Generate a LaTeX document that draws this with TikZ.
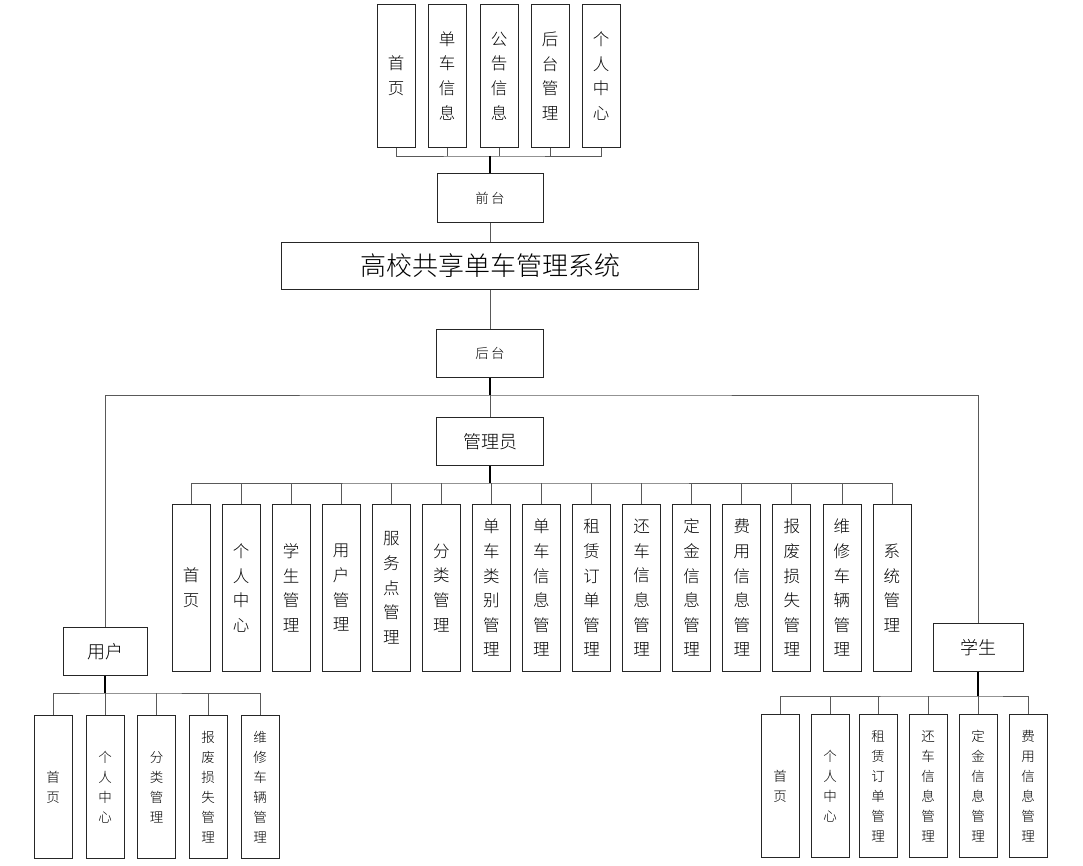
\documentclass[tikz,border=0pt]{standalone}
\usepackage{fontspec}
\setmainfont{Noto Sans CJK SC}[UprightFont=* Light]
\begin{document}
\begin{tikzpicture}[x=1pt,y=-1pt,
  box/.style={draw=black!85, line width=0.8pt, inner sep=0pt, align=center, fill=white},
  vbig/.style={box, anchor=north, minimum width=38pt, minimum height=143pt, font=\fontsize{16.5}{24.6}\selectfont},
  vsmall/.style={box, anchor=north, minimum width=38pt, minimum height=143pt, font=\fontsize{13.5}{20}\selectfont},
  hbox/.style={box, anchor=north, minimum height=48pt},
  link/.style={draw=black!65, line width=0.8pt},
  trunk/.style={draw=black, line width=1.2pt}
]
\useasboundingbox (0,0) rectangle (1083,866);

% ---------- front end ----------
\node[vbig] (t1) at (396,4) {首\\页};
\node[vbig] (t2) at (447,4) {单\\车\\信\\息};
\node[vbig] (t3) at (499,4) {公\\告\\信\\息};
\node[vbig] (t4) at (550,4) {后\\台\\管\\理};
\node[vbig] (t5) at (601,4) {个\\人\\中\\心};
\coordinate (busT) at (490,156);
\node[hbox, minimum width=106pt, minimum height=49pt, font=\fontsize{13.5}{15}\selectfont] (front) at (490,173) {前\,台};
\draw[link] (t1.south) |- (busT) -| (t5.south);
\foreach \i in {2,3,4} \draw[link] (t\i.south) -- (t\i.south |- busT);
\draw[trunk] (busT) -- (front.north);

% ---------- main ----------
\node[hbox, minimum width=417pt, minimum height=47pt, font=\fontsize{26}{28}\selectfont] (main) at (490,242) {高校共享单车管理系统};
\draw[link] (front.south) -- (main.north);

% ---------- back end ----------
\node[hbox, minimum width=107pt, font=\fontsize{13.5}{15}\selectfont] (back) at (490,329) {后\,台};
\draw[link] (main.south) -- (back.north);
\coordinate (split) at (490,395);
\node[hbox, minimum width=107pt, font=\fontsize{18}{20}\selectfont] (admin) at (490,417) {管理员};
\node[hbox, minimum width=84pt, font=\fontsize{18}{20}\selectfont] (user) at (105,627) {用户};
\node[hbox, minimum width=90pt, font=\fontsize{18}{20}\selectfont] (student) at (978,623) {学生};
\draw[link] (user.north) |- (split) -| (student.north);
\draw[trunk] (back.south) -- (split);
\draw[link] (split) -- (admin.north);

% ---------- admin children ----------
\foreach \i/\t in {1/{首\\页},2/{个\\人\\中\\心},3/{学\\生\\管\\理},4/{用\\户\\管\\理},5/{服\\务\\点\\管\\理},6/{分\\类\\管\\理},7/{单\\车\\类\\别\\管\\理},8/{单\\车\\信\\息\\管\\理},9/{租\\赁\\订\\单\\管\\理},10/{还\\车\\信\\息\\管\\理},11/{定\\金\\信\\息\\管\\理},12/{费\\用\\信\\息\\管\\理},13/{报\\废\\损\\失\\管\\理},14/{维\\修\\车\\辆\\管\\理},15/{系\\统\\管\\理}}
  \node[vbig, minimum height=167pt] (a\i) at ({191+50.07*(\i-1)},504) {\t};
\coordinate (busA) at (490,483);
\draw[link] (a1.north) |- (busA) -| (a15.north);
\foreach \i in {2,...,14} \draw[link] (a\i.north) -- (a\i.north |- busA);
\draw[trunk] (admin.south) -- (busA);

% ---------- user children ----------
\node[vsmall] (u1) at (53,715) {首\\页};
\node[vsmall] (u2) at (105,715) {个\\人\\中\\心};
\node[vsmall] (u3) at (156.5,715) {分\\类\\管\\理};
\node[vsmall] (u4) at (208,715) {报\\废\\损\\失\\管\\理};
\node[vsmall] (u5) at (260,715) {维\\修\\车\\辆\\管\\理};
\coordinate (busU) at (105,693);
\draw[link] (u1.north) |- (busU) -| (u5.north);
\foreach \i in {2,3,4} \draw[link] (u\i.north) -- (u\i.north |- busU);
\draw[trunk] (user.south) -- (busU);

% ---------- student children ----------
\node[vsmall] (s1) at (780,714) {首\\页};
\node[vsmall] (s2) at (830,714) {个\\人\\中\\心};
\node[vsmall] (s3) at (878,714) {租\\赁\\订\\单\\管\\理};
\node[vsmall] (s4) at (928,714) {还\\车\\信\\息\\管\\理};
\node[vsmall] (s5) at (978,714) {定\\金\\信\\息\\管\\理};
\node[vsmall] (s6) at (1028,714) {费\\用\\信\\息\\管\\理};
\coordinate (busS) at (978,696);
\draw[link] (s1.north) |- (busS) -| (s6.north);
\foreach \i in {2,3,4,5} \draw[link] (s\i.north) -- (s\i.north |- busS);
\draw[trunk] (student.south) -- (busS);
\end{tikzpicture}
\end{document}
